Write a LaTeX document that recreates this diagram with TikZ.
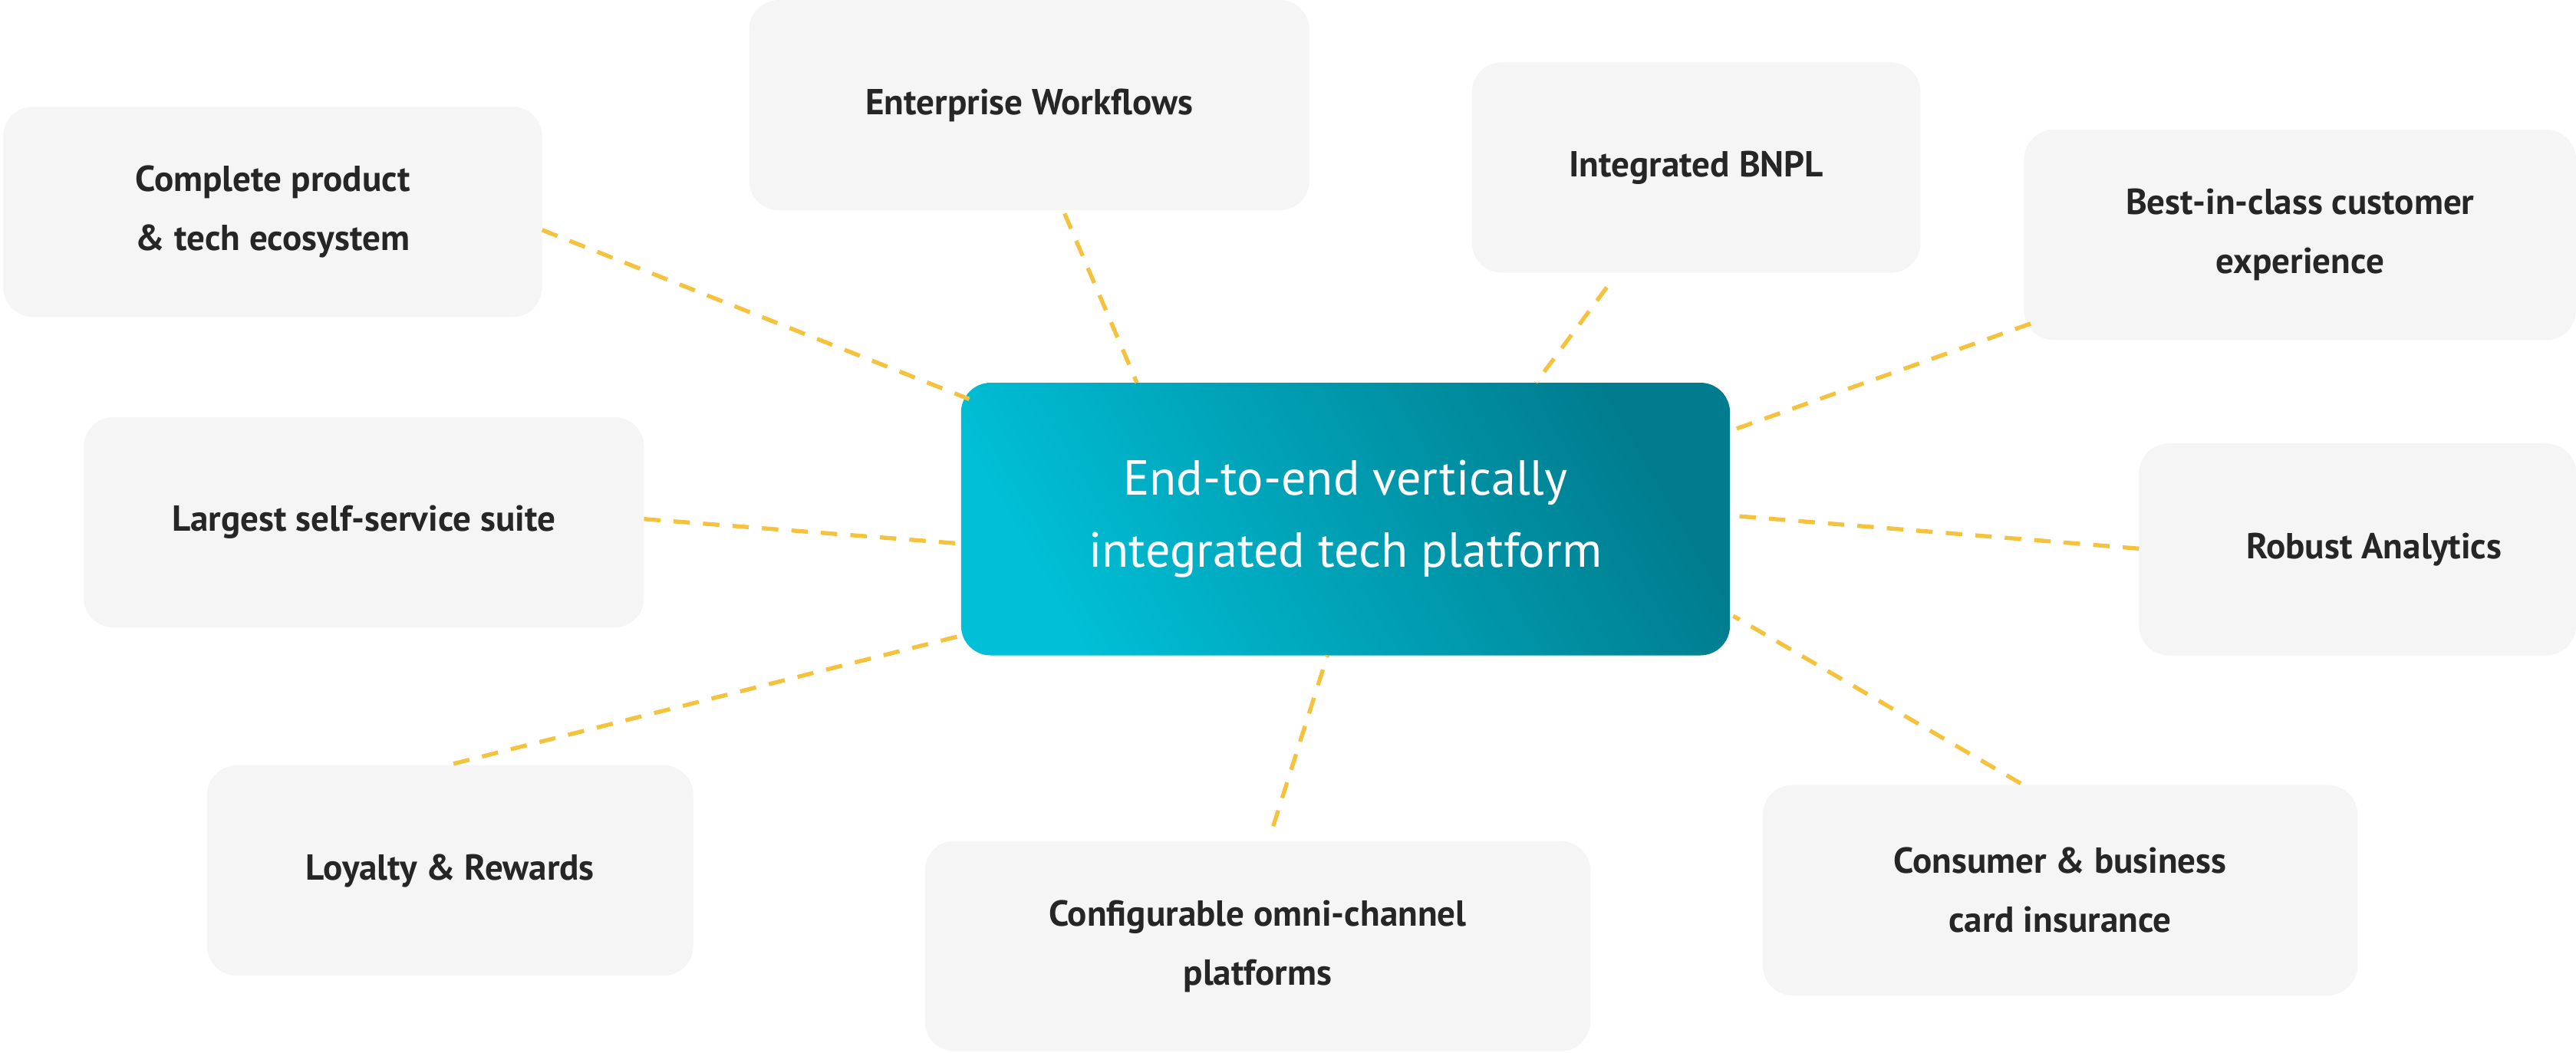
\documentclass[tikz,border=0pt]{standalone}
\usepackage{fontspec}
\setmainfont{PT Sans}
\usetikzlibrary{positioning}
\definecolor{boxgray}{HTML}{F5F5F5}
\definecolor{dashgold}{HTML}{F5C23E}
\definecolor{tealA}{HTML}{00BFD6}
\definecolor{tealB}{HTML}{007C8E}
\begin{document}
\begin{tikzpicture}[x=1pt, y=-1pt,
  box/.style={fill=boxgray, rounded corners=18pt, align=center, font=\fontsize{22}{36}\selectfont\bfseries, text=black!85},
  hub/.style={rounded corners=18pt, align=center, font=\fontsize{30}{44}\selectfont, text=white, left color=tealA, right color=tealB, shading angle=120},
  link/.style={dashgold, line width=2.5pt, dash pattern=on 10pt off 8pt}]
  \useasboundingbox (0,0) rectangle (1568,641);
  \node[hub, minimum width=468pt, minimum height=166pt] (platform) at (819,316) {End-to-end vertically\\integrated tech platform};
  \node[box, minimum width=328pt, minimum height=128pt] (ecosystem) at (166,129) {Complete product\\\& tech ecosystem};
  \node[box, minimum width=341pt, minimum height=128pt] (workflows) at (626.5,64) {Enterprise Workflows};
  \node[box, minimum width=273pt, minimum height=128pt] (bnpl) at (1032.5,102) {Integrated BNPL};
  \node[box, minimum width=336pt, minimum height=128pt] (experience) at (1400,143) {Best-in-class customer\\experience};
  \node[box, minimum width=341pt, minimum height=128pt] (selfservice) at (221.5,318) {Largest self-service suite};
  \node[box, minimum width=266pt, minimum height=129pt] (analytics) at (1435,334.5) {\hspace*{20pt}Robust Analytics};
  \node[box, minimum width=296pt, minimum height=128pt] (loyalty) at (274,530) {Loyalty \& Rewards};
  \node[box, minimum width=405pt, minimum height=128pt] (omni) at (765.5,576) {Configurable omni-channel\\platforms};
  \node[box, minimum width=362pt, minimum height=128pt] (insurance) at (1254,542) {Consumer \& business\\card insurance};
  % connector ends
  \coordinate (ecosystem-end) at (330,140);  \coordinate (hub-ecosystem) at (590,243);
  \coordinate (workflows-end) at (648,130);  \coordinate (hub-workflows) at (692,233);
  \coordinate (bnpl-end) at (978,175);       \coordinate (hub-bnpl) at (935,233);
  \coordinate (experience-end) at (1236,197); \coordinate (hub-experience) at (1057,261);
  \coordinate (selfservice-end) at (392,316); \coordinate (hub-selfservice) at (585,331);
  \coordinate (analytics-end) at (1302,334); \coordinate (hub-analytics) at (1055,314);
  \coordinate (loyalty-end) at (276,465);    \coordinate (hub-loyalty) at (585,387);
  \coordinate (omni-end) at (775,503);       \coordinate (hub-omni) at (808,399);
  \coordinate (insurance-end) at (1230,477); \coordinate (hub-insurance) at (1055,375);
  \foreach \n in {ecosystem, workflows, bnpl, experience, selfservice, analytics, loyalty, omni, insurance}
    \draw[link] (\n-end) -- (hub-\n);
\end{tikzpicture}
\end{document}
